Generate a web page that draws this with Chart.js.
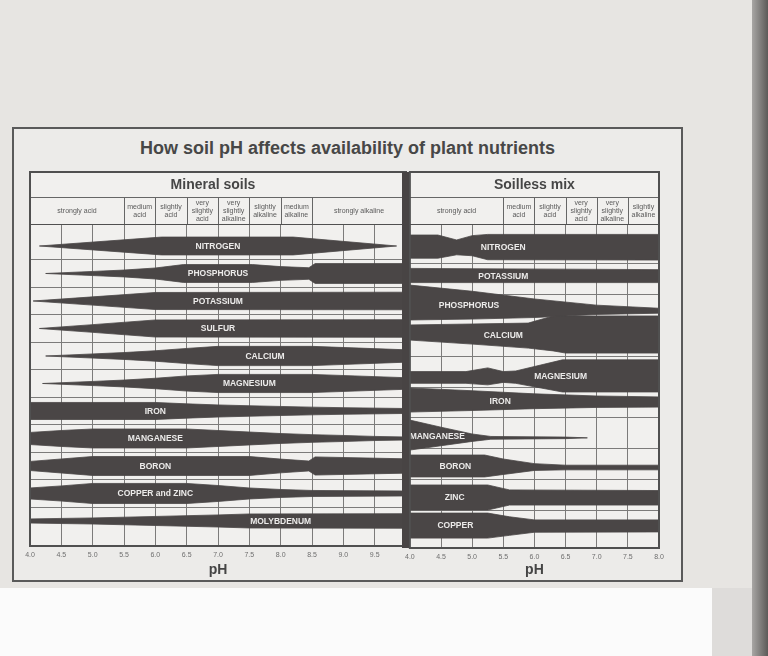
<!DOCTYPE html>
<html><head><meta charset="utf-8">
<script src="https://cdn.jsdelivr.net/npm/chart.js@4.4.1/dist/chart.umd.min.js"></script>
<style>
html,body{margin:0;padding:0;}
body{width:768px;height:656px;overflow:hidden;background:#e7e5e2;position:relative;font-family:"Liberation Sans",Arial,sans-serif;}
#box{position:absolute;left:12px;top:127px;width:671px;height:455px;box-sizing:border-box;border:2px solid #5a5a5a;background:#ecebe9;}
#title{position:absolute;left:12px;top:136px;width:671px;text-align:center;font-weight:bold;font-size:18px;color:#474747;line-height:24px;}
#white{position:absolute;left:0;top:588px;width:712px;height:68px;background:#fbfbfb;}
#gut{position:absolute;left:712px;top:588px;width:44px;height:68px;background:#dedcda;}
#edge{position:absolute;left:752px;top:0;width:16px;height:656px;background:linear-gradient(to right,#a8a6a4,#5c5a58);}
#divider{position:absolute;left:402px;top:172px;width:7px;height:376px;background:#484444;z-index:5;}
canvas{position:absolute;}
</style>
</head><body>
<div id="box"></div>
<div id="title">How soil pH affects availability of plant nutrients</div>
<div id="white"></div><div id="gut"></div><div id="edge"></div>
<canvas id="c1" width="412" height="422" style="left:0;top:160px"></canvas>
<canvas id="c2" width="270" height="422" style="left:400px;top:160px"></canvas>
<div id="divider"></div>
<script>
// ---------- DATA ----------
// pH zones (header row)
const mineralZones = [
  [4.0, 5.5, 'strongly acid'], [5.5, 6.0, 'medium\nacid'], [6.0, 6.5, 'slightly\nacid'],
  [6.5, 7.0, 'very\nslightly\nacid'], [7.0, 7.5, 'very\nslightly\nalkaline'], [7.5, 8.0, 'slightly\nalkaline'],
  [8.0, 8.5, 'medium\nalkaline'], [8.5, 10.0, 'strongly alkaline']
];
const soillessZones = [
  [4.0, 5.5, 'strongly acid'], [5.5, 6.0, 'medium\nacid'], [6.0, 6.5, 'slightly\nacid'],
  [6.5, 7.0, 'very\nslightly\nacid'], [7.0, 7.5, 'very\nslightly\nalkaline'], [7.5, 8.0, 'slightly\nalkaline']
];
const mineralPH = [4.0, 10.0];
const soillessPH = [4.0, 8.0];

// Mineral soils: nutrient names, band profiles [pH, width] (width in row units), label pH
const mineralNutrients = ['NITROGEN','PHOSPHORUS','POTASSIUM','SULFUR','CALCIUM','MAGNESIUM','IRON','MANGANESE','BORON','COPPER and ZINC','MOLYBDENUM'];
const mineralNitrogen   = [[4.15,0],[6.1,0.65],[8.2,0.65],[9.85,0]];
const mineralPhosphorus = [[4.25,0],[5.0,0.15],[5.5,0.25],[6.0,0.4],[6.45,0.65],[7.55,0.65],[8.0,0.5],[8.45,0.42],[8.55,0.72],[10,0.72]];
const mineralPotassium  = [[4.05,0],[5.0,0.3],[6.0,0.62],[10,0.64]];
const mineralSulfur     = [[4.15,0],[5.0,0.28],[6.0,0.62],[10,0.64]];
const mineralCalcium    = [[4.25,0],[5.0,0.15],[5.5,0.25],[6.0,0.38],[6.5,0.55],[7.0,0.7],[8.5,0.7],[10,0.45]];
const mineralMagnesium  = [[4.2,0],[5.0,0.15],[5.5,0.25],[6.0,0.38],[6.5,0.55],[7.0,0.66],[8.5,0.66],[10,0.42]];
const mineralIron       = [[4.0,0.62],[6.0,0.62],[6.5,0.52],[7.0,0.44],[7.5,0.38],[8.0,0.33],[8.5,0.28],[9.0,0.24],[10,0.18]];
const mineralManganese  = [[4.0,0.44],[4.5,0.58],[5.0,0.69],[6.5,0.69],[7.0,0.58],[7.5,0.47],[8.0,0.36],[8.5,0.28],[9.0,0.22],[9.5,0.15],[10,0.11]];
const mineralBoron      = [[4.0,0.33],[4.5,0.51],[5.0,0.69],[7.5,0.69],[8.0,0.5],[8.45,0.36],[8.55,0.66],[10,0.52]];
const mineralCopperZinc = [[4.0,0.4],[4.5,0.55],[5.0,0.73],[6.5,0.73],[7.0,0.58],[7.5,0.4],[8.0,0.29],[8.5,0.22],[10,0.18]];
const mineralMolybdenum = [[4.0,0.15],[5.0,0.22],[6.0,0.33],[7.0,0.44],[7.5,0.51],[10,0.53]];
const mineralLabelPH = [7.0, 7.0, 7.0, 7.0, 7.75, 7.5, 6.0, 6.0, 6.0, 6.0, 8.0];

// Soilless mix: band profiles [pH, upper edge, lower edge] relative to row (row units)
const soillessNutrients = ['NITROGEN','POTASSIUM','PHOSPHORUS','CALCIUM','MAGNESIUM','IRON','MANGANESE','BORON','ZINC','COPPER'];
const soillessNitrogen   = [[4.0,-0.42,0.33],[4.45,-0.42,0.33],[4.75,-0.26,0.22],[5.0,-0.4,0.25],[5.25,-0.44,0.38],[8.0,-0.44,0.39]];
const soillessPotassium  = [[4.0,-0.34,0.12],[8.0,-0.3,0.12]];
const soillessPhosphorus = [[4.0,-0.8,0.33],[5.0,-0.6,0.3],[6.0,-0.35,0.25],[7.0,-0.15,0.15],[8.0,-0.05,0.11]];
const soillessCalcium    = [[4.0,-0.51,-0.02],[5.0,-0.54,0.11],[5.9,-0.57,0.24],[6.3,-0.8,0.33],[6.5,-0.8,0.4],[8.0,-0.8,0.4]];
const soillessMagnesium  = [[4.0,0.0,0.38],[4.9,0.0,0.38],[5.25,-0.12,0.43],[5.5,0.0,0.35],[5.7,-0.02,0.38],[6.45,-0.38,0.66],[8.0,-0.38,0.66]];
const soillessIron       = [[4.0,-0.47,0.31],[5.0,-0.38,0.26],[6.0,-0.28,0.2],[7.0,-0.21,0.16],[8.0,-0.18,0.15]];
const soillessManganese  = [[4.0,-0.43,0.54],[4.5,-0.2,0.4],[5.0,0.02,0.26],[5.3,0.1,0.19],[6.5,0.12,0.17],[6.85,0.145,0.145]];
const soillessBoron      = [[4.0,-0.3,0.41],[5.2,-0.3,0.41],[5.5,-0.17,0.33],[6.0,-0.02,0.2],[6.5,0.03,0.18],[8.0,0.03,0.18]];
const soillessZinc       = [[4.0,-0.33,0.48],[5.25,-0.33,0.48],[5.6,-0.17,0.32],[8.0,-0.15,0.32]];
const soillessCopper     = [[4.0,-0.42,0.39],[5.25,-0.42,0.39],[5.6,-0.3,0.3],[6.0,-0.2,0.2],[8.0,-0.2,0.19]];
const soillessLabelPH = [5.5, 5.5, 4.95, 5.5, 6.42, 5.45, 4.44, 4.73, 4.72, 4.73];

// ---------- RENDER ----------
const FONT = '"Liberation Sans", Arial, Helvetica, sans-serif';
const BAND = '#4a4646';
const GRID = '#7c7b7a';

const mineralBands = [mineralNitrogen, mineralPhosphorus, mineralPotassium, mineralSulfur, mineralCalcium,
  mineralMagnesium, mineralIron, mineralManganese, mineralBoron, mineralCopperZinc, mineralMolybdenum];
const soillessBands = [soillessNitrogen, soillessPotassium, soillessPhosphorus, soillessCalcium, soillessMagnesium,
  soillessIron, soillessManganese, soillessBoron, soillessZinc, soillessCopper];

function edges(p) { return p.length === 2 ? [p[0], -p[1] / 2, p[1] / 2] : p; }
function centerAt(profile, ph) {
  const e = profile.map(edges);
  if (ph <= e[0][0]) return (e[0][1] + e[0][2]) / 2;
  for (let k = 1; k < e.length; k++) {
    if (ph <= e[k][0]) {
      const t = (ph - e[k-1][0]) / (e[k][0] - e[k-1][0]);
      const a = (e[k-1][1] + e[k-1][2]) / 2, b = (e[k][1] + e[k][2]) / 2;
      return a + t * (b - a);
    }
  }
  const l = e[e.length - 1];
  return (l[1] + l[2]) / 2;
}
function buildDatasets(bands) {
  const ds = [];
  bands.forEach((prof, i) => {
    const e = prof.map(edges);
    ds.push({ data: e.map(p => ({ x: p[0], y: i + p[1] })), fill: false, borderWidth: 0.8, borderColor: BAND,
      backgroundColor: BAND, pointRadius: 0, tension: 0 });
    ds.push({ data: e.map(p => ({ x: p[0], y: i + p[2] })), fill: '-1', borderWidth: 0.8, borderColor: BAND,
      backgroundColor: BAND, pointRadius: 0, tension: 0 });
  });
  return ds;
}

const panelPlugin = {
  id: 'panel',
  beforeDraw(chart, _a, o) {
    const { ctx, chartArea: a, scales: { x } } = chart;
    const top = a.top - 52, mid = a.top - 27;
    ctx.save();
    ctx.fillStyle = '#f1f0ee';
    ctx.fillRect(a.left, top, a.right - a.left, a.bottom - top);
    ctx.fillStyle = '#464646';
    ctx.font = 'bold 14px ' + FONT;
    ctx.textAlign = 'center'; ctx.textBaseline = 'middle';
    ctx.fillText(o.title, x.getPixelForValue(o.titlePH), (top + mid) / 2 + 1);
    ctx.strokeStyle = '#666'; ctx.lineWidth = 1;
    ctx.beginPath(); ctx.moveTo(a.left, mid + 0.5); ctx.lineTo(a.right, mid + 0.5); ctx.stroke();
    ctx.font = '7px ' + FONT; ctx.fillStyle = '#5a5a5a';
    const cy = (mid + a.top) / 2 + 0.5;
    o.zones.forEach(z => {
      const x0 = x.getPixelForValue(z[0]), x1 = x.getPixelForValue(z[1]);
      ctx.beginPath(); ctx.moveTo(Math.round(x1) + 0.5, mid); ctx.lineTo(Math.round(x1) + 0.5, a.top); ctx.stroke();
      const lines = z[2].split('\n');
      lines.forEach((t, k) => ctx.fillText(t, (x0 + x1) / 2, cy + (k - (lines.length - 1) / 2) * 7.6));
    });
    ctx.restore();
  },
  afterDatasetsDraw(chart, _a, o) {
    const { ctx, scales: { x, y } } = chart;
    ctx.save();
    ctx.fillStyle = '#ecebea';
    ctx.font = 'bold 8.5px ' + FONT;
    ctx.textAlign = 'center'; ctx.textBaseline = 'middle';
    o.names.forEach((n, i) => {
      const ph = o.labelPH[i];
      ctx.fillText(n, x.getPixelForValue(ph), y.getPixelForValue(i + centerAt(o.bands[i], ph)) + 0.5);
    });
    ctx.restore();
  },
  afterDraw(chart) {
    const { ctx, chartArea: a } = chart;
    const top = a.top - 52;
    ctx.save();
    ctx.strokeStyle = '#505050'; ctx.lineWidth = 1;
    ctx.beginPath(); ctx.moveTo(a.left, a.top + 0.5); ctx.lineTo(a.right, a.top + 0.5); ctx.stroke();
    ctx.lineWidth = 2;
    ctx.strokeRect(a.left, top, a.right - a.left, a.bottom - top);
    ctx.restore();
  }
};

function makeChart(id, bands, names, labelPH, zones, range, title, titlePH, pad, yMin, yMax, axisH) {
  // horizontal grid lines sit between neighbouring nutrient rows
  const gridVals = [];
  for (let v = 0.5; v < names.length - 1; v += 1) gridVals.push(v);
  return new Chart(document.getElementById(id), {
    type: 'line',
    data: { datasets: buildDatasets(bands) },
    plugins: [panelPlugin],
    options: {
      responsive: false, animation: false, devicePixelRatio: 1,
      layout: { padding: pad },
      plugins: {
        legend: { display: false }, tooltip: { enabled: false },
        panel: { title, titlePH, zones, names, labelPH, bands }
      },
      scales: {
        x: {
          type: 'linear', min: range[0], max: range[1],
          border: { display: false },
          grid: { color: GRID, lineWidth: 1, drawTicks: false },
          ticks: { stepSize: 0.5, autoSkip: false, maxRotation: 0, padding: 5, color: '#6e6e6e',
            font: { size: 7, family: FONT },
            callback: v => (v > 9.9 ? '' : Number(v).toFixed(1)) },
          title: { display: true, text: 'pH', color: '#454545', font: { size: 14, weight: 'bold', family: FONT },
            padding: { top: 0, bottom: 3 } },
          afterFit: s => { s.height = axisH; }
        },
        y: {
          type: 'linear', reverse: true, min: yMin, max: yMax,
          border: { display: false },
          grid: { color: GRID, lineWidth: 1, drawTicks: false },
          ticks: { display: false },
          afterBuildTicks: s => { s.ticks = gridVals.map(v => ({ value: v })); },
          afterFit: s => { s.width = 0; }
        }
      }
    }
  });
}

makeChart('c1', mineralBands, mineralNutrients, mineralLabelPH, mineralZones, mineralPH,
  'Mineral soils', 6.92, { left: 30, right: 6, top: 64, bottom: 0 }, -0.8, 10.91, 36);
makeChart('c2', soillessBands, soillessNutrients, soillessLabelPH, soillessZones, soillessPH,
  'Soilless mix', 6.0, { left: 9, right: 11, top: 64, bottom: 0 }, -0.777, 9.71, 34);
</script>
</body></html>
